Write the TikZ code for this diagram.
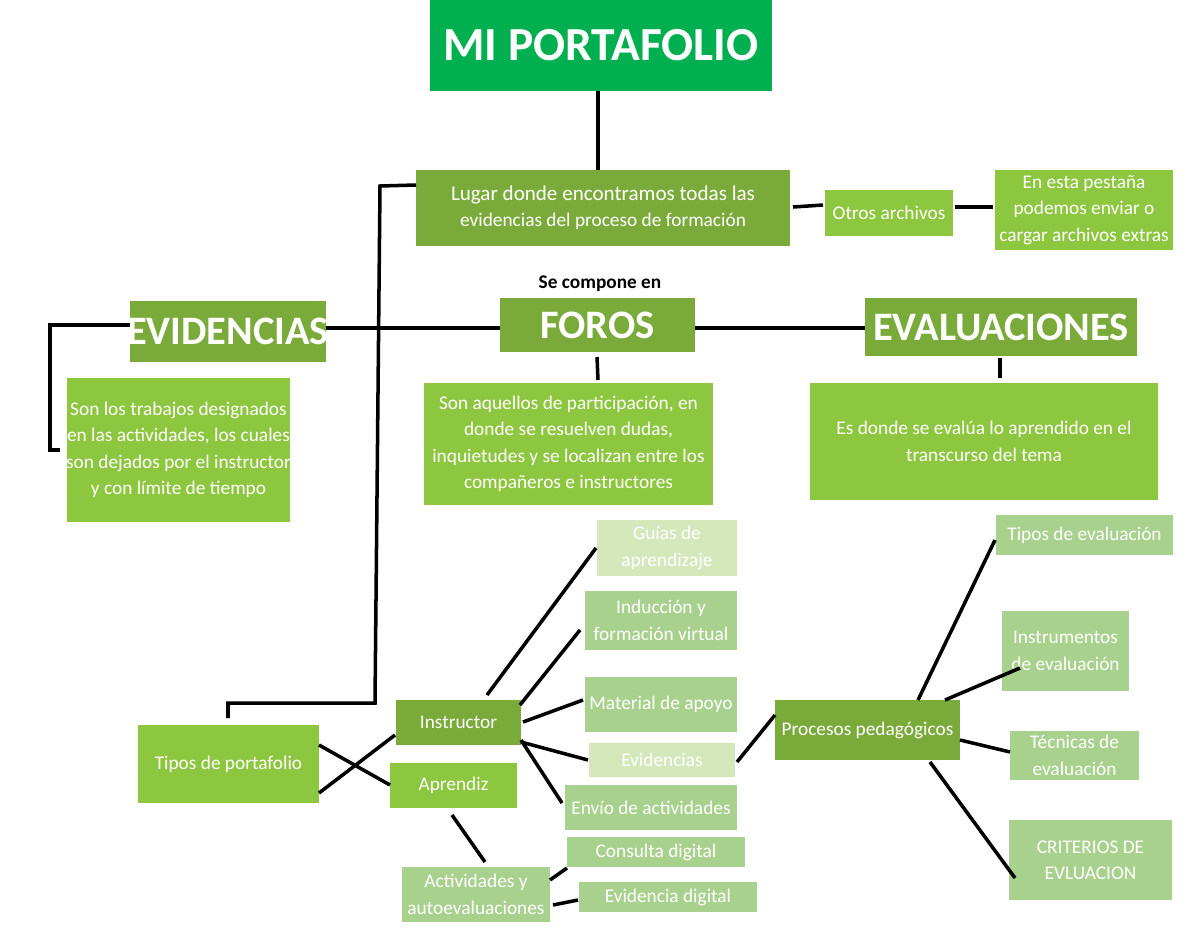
\documentclass[tikz,border=0pt]{standalone}
\usepackage{fontspec}
\setmainfont{Carlito}
\definecolor{tg}{HTML}{00B050}
\definecolor{dg}{HTML}{7AAB3A}
\definecolor{mg}{HTML}{8DC63F}
\definecolor{lg}{HTML}{A9D18E}
\definecolor{vg}{HTML}{D4E8BC}
\tikzset{bx/.style={inner sep=0pt,align=center,text=white,font=\fontsize{11}{15}\selectfont},
ln/.style={line width=2pt,black}}
\newcommand{\bx}[7]{\fill[#6] (#2,#3) rectangle (#4,#5); \node[bx] (#1) at ({(#2+#4)/2},{(#3+#5)/2}) {#7};}
\begin{document}
\begin{tikzpicture}[x=0.02cm,y=-0.02cm]
\useasboundingbox (0,0) rectangle (1200,927);
\bx{t}{430}{0}{772}{91}{tg}{\fontsize{27}{30}\selectfont\bfseries MI PORTAFOLIO}
\bx{lug}{416}{170}{790}{246}{dg}{\fontsize{12}{18}\selectfont Lugar donde encontramos todas las\\ evidencias del proceso de formación}
\bx{otr}{825}{190}{953}{236}{mg}{Otros archivos}
\bx{esta}{995}{170}{1173}{250}{mg}{En esta pestaña\\ podemos enviar o\\ cargar archivos extras}
\bx{evi}{130}{301}{326}{362}{dg}{\fontsize{23}{26}\selectfont\bfseries EVIDENCIAS}
\bx{for}{500}{298}{695}{352}{dg}{\fontsize{23}{26}\selectfont\bfseries FOROS}
\bx{eva}{865}{298}{1137}{356}{dg}{\fontsize{23}{26}\selectfont\bfseries EVALUACIONES}
\bx{son}{67}{378}{290}{522}{mg}{Son los trabajos designados\\ en las actividades, los cuales\\ son dejados por el instructor\\ y con límite de tiempo}
\bx{aqu}{424}{383}{713}{505}{mg}{Son aquellos de participación, en\\ donde se resuelven dudas,\\ inquietudes y se localizan entre los\\ compañeros e instructores}
\bx{esd}{810}{383}{1158}{500}{mg}{Es donde se evalúa lo aprendido en el\\ transcurso del tema}
\bx{gui}{597}{520}{737}{576}{vg}{Guías de\\ aprendizaje}
\bx{ind}{585}{591}{737}{650}{lg}{Inducción y\\ formación virtual}
\bx{mat}{585}{677}{737}{732}{lg}{Material de apoyo}
\bx{evs}{589}{743}{735}{777}{vg}{Evidencias}
\bx{env}{565}{785}{737}{830}{lg}{Envío de actividades}
\bx{con}{567}{837}{745}{867}{lg}{Consulta digital}
\bx{edi}{579}{882}{757}{912}{lg}{Evidencia digital}
\bx{act}{402}{867}{550}{922}{lg}{Actividades y\\ autoevaluaciones}
\bx{ins}{396}{700}{521}{745}{dg}{Instructor}
\bx{apr}{390}{763}{517}{808}{mg}{Aprendiz}
\bx{tip}{138}{725}{319}{803}{mg}{Tipos de portafolio}
\bx{pro}{775}{700}{960}{760}{dg}{Procesos pedagógicos}
\bx{tev}{996}{515}{1173}{555}{lg}{Tipos de evaluación}
\bx{inst}{1002}{611}{1129}{691}{lg}{Instrumentos\\ de evaluación}
\bx{tec}{1010}{731}{1139}{780}{lg}{Técnicas de\\ evaluación}
\bx{cri}{1009}{820}{1172}{900}{lg}{CRITERIOS DE\\ EVLUACION}
\node[font=\bfseries\fontsize{11}{13}\selectfont] (se) at (600,284) {Se compone en};
\draw[ln] (t.south) ++(0,0) (598,91) -- (598,170);
\draw[ln] (416,185) -- (380,186) -- (375,703) -- (228,703) -- (228,718);
\draw[ln] (793,207) -- (823,205);
\draw[ln] (955,207) -- (993,207);
\draw[ln] (326,328) -- (500,328);
\draw[ln] (695,328) -- (865,328);
\draw[ln] (130,325) -- (50,325) -- (50,450) -- (60,450);
\draw[ln] (597,357) -- (598,380);
\draw[ln] (1000,358) -- (1000,378);
\draw[ln] (319,745) -- (390,785);
\draw[ln] (319,793) -- (395,735);
\draw[ln] (487,695) -- (596,548);
\draw[ln] (520,705) -- (580,630);
\draw[ln] (523,722) -- (583,700);
\draw[ln] (521,742) -- (588,760);
\draw[ln] (521,740) -- (562,803);
\draw[ln] (452,815) -- (485,862);
\draw[ln] (550,880) -- (567,868);
\draw[ln] (553,905) -- (578,900);
\draw[ln] (737,762) -- (775,715);
\draw[ln] (918,700) -- (995,540);
\draw[ln] (945,700) -- (1020,668);
\draw[ln] (960,740) -- (1010,752);
\draw[ln] (930,762) -- (1015,878);
\end{tikzpicture}
\end{document}
